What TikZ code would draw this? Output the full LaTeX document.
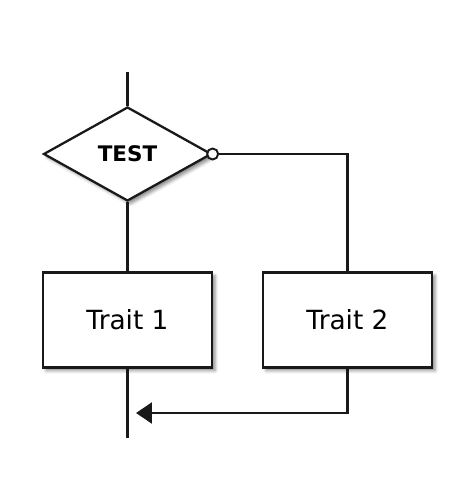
\documentclass[tikz,border=0pt]{standalone}
\usepackage{fontspec}
\setmainfont{DejaVu Sans}
\usetikzlibrary{arrows.meta,shapes.geometric,shadows.blur}
\tikzset{
  wire/.style={line width=1.3pt, draw=black!90},
  shade/.style={blur shadow={shadow xshift=1.8pt, shadow yshift=-1.8pt, shadow blur radius=1.8pt, shadow opacity=45}},
  testbox/.style={diamond, draw=black!90, line width=1.3pt, fill=white, inner sep=0pt, minimum width=3.36cm, minimum height=1.88cm, font=\bfseries\fontsize{12.2}{14}\selectfont, shade},
  traitbox/.style={rectangle, draw=black!90, line width=1.3pt, fill=white, minimum width=3.38cm, minimum height=1.9cm, font=\fontsize{15}{18}\selectfont, shade},
  port/.style={circle, draw=black!90, line width=1.1pt, fill=white, inner sep=0pt, minimum size=0.22cm},
  arr/.style={wire, -{Triangle[length=3.2mm,width=4.2mm]}},
}
\begin{document}
\begin{tikzpicture}[x=0.02cm, y=-0.02cm]
  \useasboundingbox (0,0) rectangle (474,497);
  % flowchart
  \coordinate (entry) at (127.5,72);
  \coordinate (exit) at (127.5,438);
  \coordinate (tip) at (136,413);
  \node[testbox] (test) at (127.5,154) {TEST};
  \node[traitbox] (trait1) at (127.5,320) {Trait 1};
  \node[traitbox] (trait2) at (347.5,320) {Trait 2};
  \draw[wire] (entry) -- (test.north);
  \draw[wire] (test.south) -- (trait1.north);
  \draw[wire] (trait1.south) -- (exit);
  \draw[wire] (test.east) -| (trait2.north);
  \draw[arr] (trait2.south) |- (tip);
  \node[port] (no) at (test.east) {};
\end{tikzpicture}
\end{document}
